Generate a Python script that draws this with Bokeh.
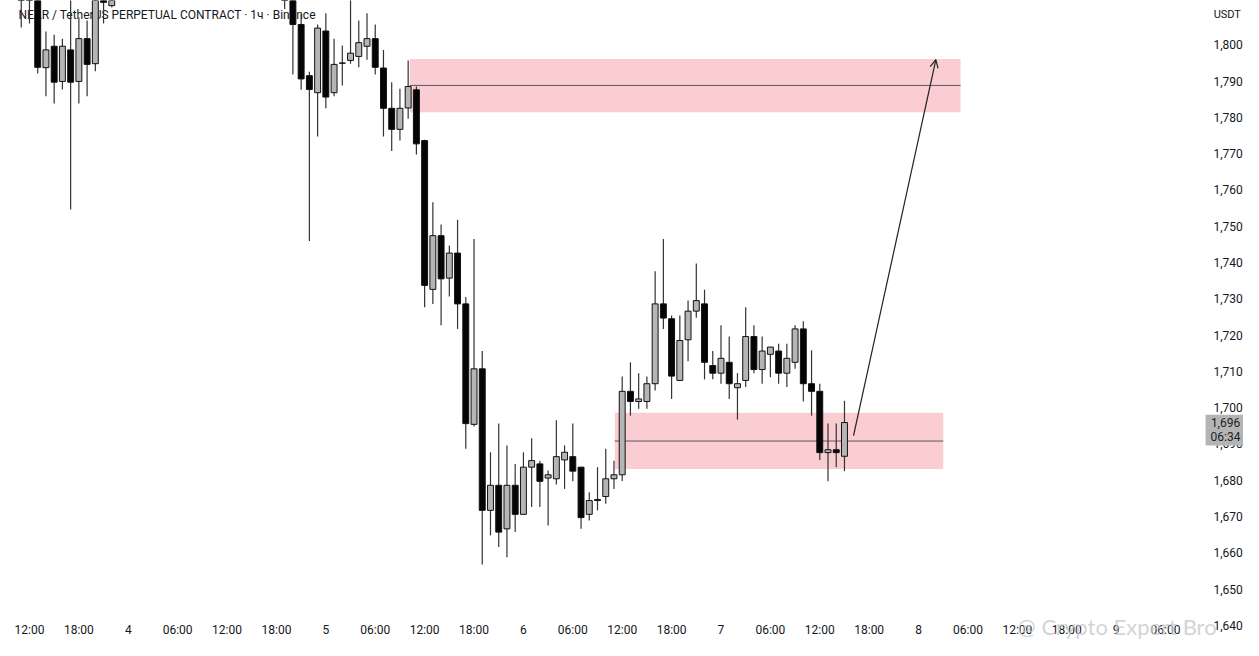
from bokeh.plotting import figure
from bokeh.models import ColumnDataSource, Range1d, FixedTicker, Arrow, OpenHead, Label
from bokeh.core.properties import value
from bokeh.embed import file_html
from bokeh.resources import INLINE

# hours counted from the first "12:00" tick; the candles of the 3rd evening
# and the 4th morning sit above the visible price range and are left out
hours = list(range(-1, 11)) + list(range(31, 100))

opens = [1816.0, 1817.0, 1814.0, 1793.7, 1799.6, 1789.9, 1798.6, 1789.9, 1801.7, 1794.8, 1813.5, 1810.8,
         1818.0, 1814.0, 1805.6, 1791.5, 1786.8, 1803.8, 1786.8, 1794.9, 1795.7, 1796.8, 1799.6, 1801.7,
         1793.6, 1782.5, 1776.7, 1782.6, 1787.6, 1773.6, 1732.6, 1747.4, 1735.7, 1742.6, 1728.6, 1695.4,
         1710.7, 1671.7, 1678.6, 1666.6, 1678.6, 1670.6, 1683.6, 1684.5, 1680.6, 1680.4, 1685.6, 1686.5,
         1683.6, 1670.6, 1674.4, 1675.5, 1680.4, 1681.5, 1704.5, 1701.7, 1701.7, 1706.6, 1728.6, 1724.5,
         1707.5, 1718.7, 1726.6, 1728.6, 1711.6, 1709.5, 1712.5, 1705.5, 1707.5, 1719.6, 1710.5, 1714.7,
         1715.6, 1709.5, 1712.5, 1721.7, 1706.6, 1704.5, 1687.6, 1688.4, 1686.6]
highs = [1818.0, 1819.0, 1816.0, 1803.7, 1802.8, 1801.7, 1814.0, 1807.5, 1806.7, 1815.0, 1815.0, 1815.0,
         1820.0, 1816.0, 1808.5, 1792.6, 1805.6, 1808.7, 1801.7, 1799.8, 1813.0, 1806.7, 1808.7, 1805.6,
         1798.6, 1789.7, 1787.9, 1795.7, 1788.5, 1773.8, 1756.6, 1750.5, 1744.7, 1751.8, 1730.5, 1746.5,
         1715.6, 1687.7, 1695.6, 1689.6, 1684.5, 1687.7, 1691.6, 1685.4, 1682.7, 1696.5, 1689.6, 1695.6,
         1683.6, 1676.7, 1683.6, 1688.7, 1685.4, 1708.6, 1712.5, 1709.5, 1708.6, 1737.6, 1746.5, 1725.4,
         1725.4, 1729.5, 1739.7, 1732.5, 1715.6, 1722.7, 1719.6, 1709.5, 1727.7, 1722.7, 1719.6, 1716.7,
         1717.6, 1717.6, 1722.7, 1723.8, 1715.8, 1706.6, 1695.6, 1695.6, 1701.9]
lows = [1804.8, 1805.9, 1792.1, 1785.8, 1783.8, 1787.7, 1754.6, 1783.8, 1785.8, 1792.7, 1805.9, 1810.3,
        1809.9, 1791.8, 1787.6, 1745.9, 1774.7, 1782.5, 1785.8, 1788.8, 1794.8, 1793.8, 1795.9, 1791.8,
        1774.7, 1770.7, 1773.6, 1779.6, 1769.8, 1727.7, 1728.6, 1722.7, 1730.6, 1721.7, 1688.7, 1694.8,
        1656.8, 1664.8, 1661.6, 1658.8, 1665.7, 1670.6, 1672.6, 1672.6, 1667.5, 1678.8, 1677.6, 1679.7,
        1666.6, 1668.9, 1671.7, 1673.5, 1677.6, 1679.8, 1697.8, 1699.7, 1699.7, 1704.7, 1721.7, 1702.4,
        1707.5, 1712.8, 1724.8, 1707.8, 1707.8, 1706.6, 1702.4, 1696.7, 1705.7, 1709.5, 1706.6, 1708.4,
        1706.6, 1705.7, 1710.7, 1701.7, 1697.8, 1685.6, 1679.7, 1683.6, 1682.5]
closes = [1813.0, 1814.0, 1793.8, 1798.6, 1789.7, 1799.6, 1789.7, 1801.7, 1794.6, 1813.5, 1811.7, 1813.0,
          1814.0, 1805.6, 1790.6, 1787.7, 1804.6, 1785.6, 1794.6, 1795.0, 1797.7, 1800.6, 1801.7, 1793.8,
          1782.5, 1776.7, 1782.5, 1788.5, 1772.7, 1733.7, 1747.4, 1735.5, 1742.6, 1728.6, 1695.6, 1710.7,
          1671.7, 1678.6, 1665.7, 1678.6, 1670.6, 1683.6, 1685.4, 1679.7, 1681.5, 1686.5, 1687.7, 1682.5,
          1669.7, 1674.4, 1674.7, 1680.4, 1681.5, 1704.5, 1701.7, 1702.4, 1706.6, 1728.6, 1724.7, 1708.7,
          1718.5, 1726.6, 1729.5, 1712.5, 1709.5, 1713.6, 1706.6, 1706.6, 1719.6, 1710.5, 1715.6, 1716.7,
          1709.5, 1713.6, 1721.7, 1706.6, 1704.5, 1687.6, 1688.4, 1687.6, 1695.9]

time_ticks = list(range(0, 139, 6))
time_labels = ["12:00", "18:00", "4", "06:00", "12:00", "18:00", "5", "06:00", "12:00", "18:00",
               "6", "06:00", "12:00", "18:00", "7", "06:00", "12:00", "18:00", "8", "06:00",
               "12:00", "18:00", "9", "06:00"]

price_ticks = list(range(1640, 1801, 10))
price_labels = ["1,640", "1,650", "1,660", "1,670", "1,680", "1,690", "1,700", "1,710", "1,720",
                "1,730", "1,740", "1,750", "1,760", "1,770", "1,780", "1,790", "1,800"]

# zones: left hour, right hour, bottom price, top price, middle line
upper_zone = (46.2, 113.1, 1781.4, 1796.1, 1788.8)
lower_zone = (71.1, 111.0, 1683.1, 1698.6, 1690.8)

arrow_from = (100.1, 1692.3)
arrow_to = (110.1, 1795.9)

last_price = "1,696"
countdown = "06:34"
title = "NEAR / TetherUS PERPETUAL CONTRACT · 1ч · Binance"
watermark = "@ Crypto Expert Bro"

FONT = "Roboto"
TEXT = "#131722"

p = figure(width=1243, height=640, output_backend="svg", toolbar_location=None,
           x_range=Range1d(-3.52, 147.47), y_range=Range1d(1635.83, 1812.21),
           y_axis_location="right")
p.min_border = 0
p.grid.visible = False
p.outline_line_color = None
p.background_fill_color = "white"

# axes drawn inside the frame, at the edge of the price and time scales
p.xaxis.ticker = FixedTicker(ticks=time_ticks)
p.xaxis.major_label_overrides = dict(zip(time_ticks, time_labels))
p.xaxis.fixed_location = 1641.0
p.yaxis.ticker = FixedTicker(ticks=price_ticks)
p.yaxis.major_label_overrides = dict(zip(price_ticks, price_labels))
p.yaxis.fixed_location = 143.1
for ax in (p.xaxis, p.yaxis):
    ax.axis_line_color = None
    ax.major_tick_line_color = None
    ax.minor_tick_line_color = None
    ax.major_tick_out = 0
    ax.major_tick_in = 0
    ax.minor_tick_out = 0
    ax.minor_tick_in = 0
    ax.major_label_text_font = FONT
    ax.major_label_text_font_size = "12px"
    ax.major_label_text_color = TEXT
p.xaxis.major_label_standoff = 1
p.yaxis.major_label_standoff = 6

# title line, the candles are drawn over it
p.text(x=[-1.34], y=[1808.35], text=[title], text_font=value(FONT), text_font_size="12px",
       text_color=TEXT, text_baseline="middle", text_align="left")

# zones with their middle lines
for zone in (upper_zone, lower_zone):
    left, right, bottom, top, mid = zone
    p.quad(left=[left], right=[right], bottom=[bottom], top=[top],
           fill_color="#f9cdd1", line_color=None)
    p.line([left, right], [mid, mid], line_color="#5a5a5a", line_width=1)

# candles
src = ColumnDataSource(dict(
    x=hours, high=highs, low=lows,
    top=[max(o, c) for o, c in zip(opens, closes)],
    bottom=[min(o, c) for o, c in zip(opens, closes)],
    fill=["#b5b5b5" if c >= o else "#050505" for o, c in zip(opens, closes)],
))
p.segment(x0="x", y0="high", x1="x", y1="low", source=src, line_color="#333333", line_width=1.2)
p.vbar(x="x", top="top", bottom="bottom", width=0.72, fill_color="fill",
       line_color="#111111", line_width=1, source=src)

# projection arrow
p.add_layout(Arrow(end=OpenHead(size=8, line_width=1.2, line_color="#222222"),
                   line_color="#222222", line_width=1.2,
                   x_start=arrow_from[0], y_start=arrow_from[1],
                   x_end=arrow_to[0], y_end=arrow_to[1]))

# currency and last price badge on the price scale
p.add_layout(Label(x=145.5, y=1808.35, text="USDT", text_font=FONT, text_font_size="11px",
                   text_color=TEXT, text_align="center", text_baseline="middle"))
p.add_layout(Label(x=145.29, y=1693.8, text=last_price + "\n" + countdown, text_font=FONT,
                   text_font_size="12px", text_color="#222222", text_align="center",
                   text_baseline="middle", text_line_height=1.05,
                   background_fill_color="#b4b4b4", padding=(5, 1)))

# watermark
p.add_layout(Label(x=120.0, y=1639.6, text=watermark, text_font="Lato", text_font_size="22px",
                   text_color="#c9c9c9", text_alpha=0.8, text_align="left", text_baseline="middle"))

open("out.html", "w").write(file_html(p, INLINE))
